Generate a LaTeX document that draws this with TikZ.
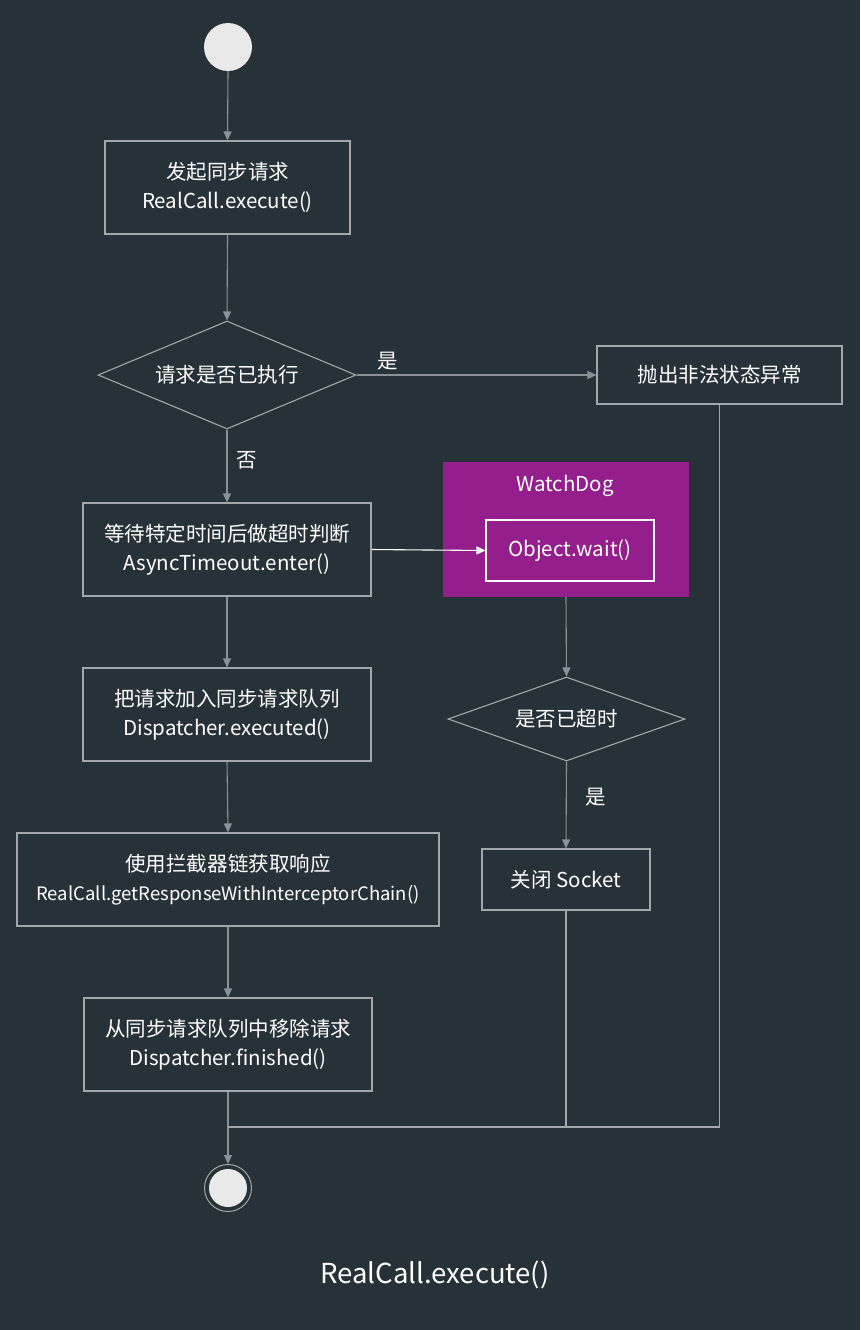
\documentclass[tikz,border=0pt]{standalone}
\usepackage{fontspec}
\setmainfont{Noto Sans CJK SC}
\usetikzlibrary{shapes.geometric,arrows.meta}
\definecolor{bgc}{HTML}{273238}
\definecolor{linec}{HTML}{A3A7A9}
\definecolor{arrc}{HTML}{8C9194}
\definecolor{purp}{HTML}{951E8D}
\definecolor{dotc}{HTML}{E9E9EA}
\tikzset{
  box/.style={draw=linec, line width=1.1pt, rectangle, inner sep=0pt, align=center, text=white, font=\fontsize{20.5}{29}\selectfont},
  dia/.style={draw=linec, line width=1.1pt, diamond, inner sep=0pt, aspect=2.4, text=white, font=\fontsize{20.5}{24}\selectfont},
  flow/.style={draw=arrc, line width=1.1pt, -{Triangle[length=9pt,width=8pt]}},
  plain/.style={draw=linec, line width=1.1pt},
  lbl/.style={text=white, font=\fontsize{20.5}{24}\selectfont, inner sep=0pt},
}
\begin{document}
\begin{tikzpicture}[x=1pt,y=-1pt]
\fill[bgc] (0,0) rectangle (860,1330);
\useasboundingbox (0,0) rectangle (860,1330);

\node[circle, fill=dotc, minimum size=48pt, inner sep=0pt] (start) at (228,47) {};

\node[box, minimum width=245pt, minimum height=93pt] (b1) at (227.5,187.5) {发起同步请求\\RealCall.execute()};
\node[dia, minimum width=258pt, minimum height=108pt] (d1) at (227,375) {请求是否已执行};
\node[box, minimum width=245pt, minimum height=58pt] (err) at (719.5,375) {抛出非法状态异常};
\node[box, minimum width=288pt, minimum height=93pt] (b2) at (227,549.5) {等待特定时间后做超时判断\\AsyncTimeout.enter()};

\node[rectangle, fill=purp, minimum width=246pt, minimum height=135pt, inner sep=0pt] (wd) at (566,529.5) {};
\node[lbl] (wdl) at (565,486) {WatchDog};
\node[draw=white, line width=1.1pt, rectangle, minimum width=168pt, minimum height=61pt, inner sep=0pt, text=white, font=\fontsize{20.5}{24}\selectfont] (ow) at (570,550.5) {Object.wait()};

\node[dia, minimum width=237pt, minimum height=84pt] (d2) at (566.5,719) {是否已超时};
\node[box, minimum width=168pt, minimum height=61pt] (sock) at (566,879.5) {关闭 Socket};

\node[box, minimum width=288pt, minimum height=93pt] (b3) at (227,714.5) {把请求加入同步请求队列\\Dispatcher.executed()};
\node[box, minimum width=422pt, minimum height=93pt] (b4) at (228,879.5) {使用拦截器链获取响应\\{\fontsize{18.5}{20}\selectfont RealCall.getResponseWithInterceptorChain()}};
\node[box, minimum width=288pt, minimum height=93pt] (b5) at (228,1044.5) {从同步请求队列中移除请求\\Dispatcher.finished()};

\node[circle, draw=linec, line width=1pt, minimum size=47pt, inner sep=0pt] (endc) at (228,1188) {};
\fill[dotc] (endc.center) circle (19pt);

\coordinate (m) at (228,1127);

\node[lbl] (yes1) at (388,361) {是};
\node[lbl] (no1) at (247,460) {否};
\node[lbl] (yes2) at (596,797) {是};

\node[text=white, font=\fontsize{27.5}{32}\selectfont, inner sep=0pt] (title) at (435,1275) {RealCall.execute()};

\draw[flow] (start.south) -- (b1.north);
\draw[flow] (b1.south) -- (d1.north);
\draw[flow] (d1.east) -- (err.west);
\draw[flow] (d1.south) -- (b2.north);
\draw[draw=white, line width=1.1pt, -{Triangle[length=9pt,width=8pt]}] (b2.east) -- (ow.west);
\draw[flow] (wd.south) -- (d2.north);
\draw[flow] (d2.south) -- (sock.north);
\draw[flow] (b2.south) -- (b3.north);
\draw[flow] (b3.south) -- (b4.north);
\draw[flow] (b4.south) -- (b5.north);
\draw[flow] (b5.south) -- (endc.north);
\draw[plain] (err.south) |- (m);
\draw[plain] (sock.south) -- (sock.south |- m);
\end{tikzpicture}
\end{document}
